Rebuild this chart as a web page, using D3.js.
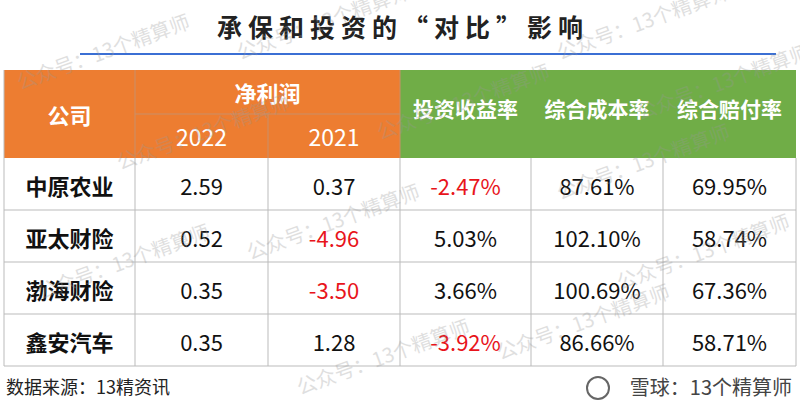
<!DOCTYPE html>
<html><head><meta charset="utf-8">
<script src="https://cdn.jsdelivr.net/npm/d3@7"></script>
<style>body{margin:0;background:#fff}</style></head>
<body><svg id="c" width="800" height="412"></svg>
<script>
const companies=["中原农业","亚太财险","渤海财险","鑫安汽车"];
const np2022=["2.59","0.52","0.35","0.35"];
const np2021=["0.37","-4.96","-3.50","1.28"];
const invReturn=["-2.47%","5.03%","3.66%","-3.92%"];
const costRatio=["87.61%","102.10%","100.69%","86.66%"];
const payRatio=["69.95%","58.74%","67.36%","58.71%"];
const years=["2022","2021"];
const greenHeads=["投资收益率","综合成本率","综合赔付率"];

const svg=d3.select("#c");
const F="'Noto Sans CJK SC',sans-serif";
const colX=[4,135,268,400,531,663,796];
const tp=70, mid=114, hb=158, rowH=52;
const y=d3.scaleLinear().domain([0,4]).range([hb,hb+4*rowH]);

svg.append("text").attr("x",403).attr("y",37).attr("text-anchor","middle")
 .attr("font-family",F).attr("font-weight",700).attr("font-size",25).attr("fill","#222")
 .attr("letter-spacing",6).text("承保和投资的“对比”影响");
svg.append("line").attr("x1",80).attr("x2",776).attr("y1",54).attr("y2",54).attr("stroke","#3b6fd4").attr("stroke-width",2);

svg.append("rect").attr("x",colX[0]).attr("y",tp).attr("width",colX[3]-colX[0]).attr("height",hb-tp).attr("fill","#ED7D31");
svg.append("rect").attr("x",colX[3]).attr("y",tp).attr("width",colX[6]-colX[3]).attr("height",hb-tp).attr("fill","#70AD47");
const hdr=(x,yy,t,sz,fw)=>svg.append("text").attr("x",x).attr("y",yy).attr("text-anchor","middle").attr("dominant-baseline","central")
 .attr("font-family",F).attr("font-weight",fw).attr("font-size",sz).attr("fill","#fff").text(t);
hdr((colX[0]+colX[1])/2,(tp+hb)/2,"公司",22,700);
hdr((colX[1]+colX[3])/2,(tp+mid)/2,"净利润",22,700);
years.forEach((t,i)=>hdr((colX[1+i]+colX[2+i])/2,(mid+hb)/2,t,23,400));
greenHeads.forEach((t,i)=>hdr((colX[3+i]+colX[4+i])/2,(tp+hb)/2-6,t,21,700));

const gc="#bbb";
svg.append("line").attr("x1",colX[1]).attr("x2",colX[3]).attr("y1",mid).attr("y2",mid).attr("stroke","#c9906a");
[1,2,3].forEach(i=>svg.append("line").attr("x1",colX[i]).attr("x2",colX[i]).attr("y1",i==2?mid:tp).attr("y2",hb).attr("stroke","#c9906a"));
const cols=[companies,np2022,np2021,invReturn,costRatio,payRatio];
companies.forEach((c,r)=>{
  cols.forEach((arr,ci)=>{
    const v=arr[r];
    svg.append("text").attr("x",(colX[ci]+colX[ci+1])/2).attr("y",(y(r)+y(r+1))/2+1)
     .attr("text-anchor","middle").attr("dominant-baseline","central").attr("font-family",F)
     .attr("font-weight",ci==0?700:400).attr("font-size",22)
     .attr("fill",v.startsWith("-")?"#e8141b":"#111").text(v);
  });
});
d3.range(1,5).forEach(i=>svg.append("line").attr("x1",colX[0]).attr("x2",colX[6]).attr("y1",y(i)).attr("y2",y(i)).attr("stroke",gc));
colX.forEach(x=>svg.append("line").attr("x1",x).attr("x2",x).attr("y1",hb).attr("y2",y(4)).attr("stroke",gc));
svg.append("line").attr("x1",colX[0]).attr("x2",colX[0]).attr("y1",tp).attr("y2",hb).attr("stroke",gc);

svg.append("text").attr("x",6).attr("y",394).attr("font-family",F).attr("font-size",18).attr("fill","#222").text("数据来源：13精资讯");
svg.append("text").attr("x",792).attr("y",395).attr("text-anchor","end").attr("font-family",F).attr("font-size",20).attr("fill","#444").text("雪球：13个精算师");
svg.append("circle").attr("cx",598).attr("cy",388).attr("r",11).attr("fill","none").attr("stroke","#666").attr("stroke-width",2);

const wm=[[20,90],[240,60],[560,60],[120,170],[380,140],[640,120],[40,300],[250,260],[560,200],[300,395],[500,360],[620,290]];
wm.forEach(([x,yy])=>svg.append("text").attr("x",x).attr("y",yy).attr("font-family",F).attr("font-size",20)
 .attr("fill","#999").attr("opacity",0.3).attr("transform",`rotate(-20 ${x} ${yy})`).text("公众号：13个精算师"));
</script></body></html>
